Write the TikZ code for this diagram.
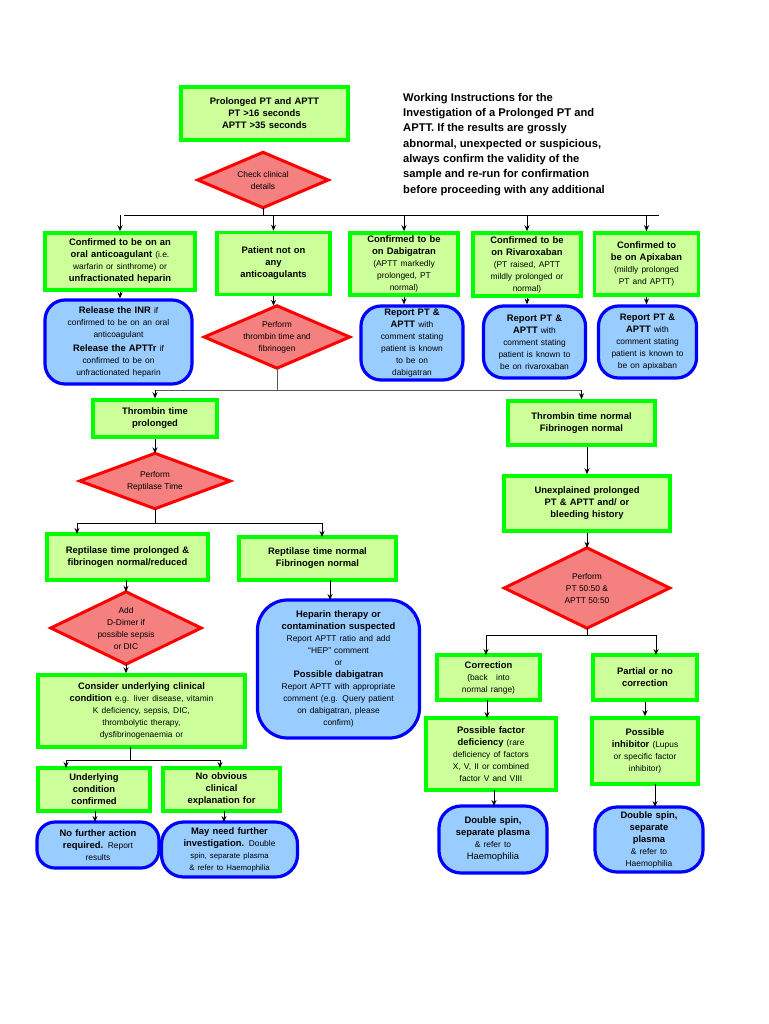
\documentclass[tikz,border=0pt]{standalone}
\usepackage{fontspec}
\setmainfont{Liberation Sans}
\usetikzlibrary{shapes.geometric,arrows.meta,backgrounds}
\definecolor{gbord}{RGB}{0,255,0}
\definecolor{gfill}{RGB}{204,255,153}
\definecolor{bbord}{RGB}{0,0,255}
\definecolor{bfill}{RGB}{153,204,255}
\definecolor{rbord}{RGB}{255,0,0}
\definecolor{rfill}{RGB}{245,128,128}
\newcommand{\sm}{\fontsize{8.4}{10.8}\selectfont}
\begin{document}
\begin{tikzpicture}[x=1pt,y=-1pt,
  every node/.style={font=\fontsize{9.4}{12}\selectfont, align=center, inner sep=1pt},
  gbox/.style={draw=gbord, fill=gfill, line width=3.5pt},
  bbox/.style={draw=bbord, fill=bfill, line width=3.2pt, rounded corners=20pt},
  dia/.style={draw=none},
  dshape/.style={draw=rbord, fill=rfill, line width=3pt, line join=miter},
  arr/.style={-{Stealth[length=6pt,width=5pt]}, line width=0.8pt},
  ln/.style={line width=0.8pt}]
\useasboundingbox (0,0) rectangle (768,1024);

% title
\begin{scope}
\clip (395,85) rectangle (690,200);
\node[anchor=north west, align=left, font=\fontsize{11.2}{15.3}\selectfont\bfseries, inner sep=0] (title) at (403,93)
{Working Instructions for the\\Investigation of a Prolonged PT and\\APTT. If the results are grossly\\abnormal, unexpected or suspicious,\\always confirm the validity of the\\sample and re-run for confirmation\\before proceeding with any additional\\tests.};
\end{scope}

\node[gbox, minimum width=167, minimum height=53, text width=160] (top) at (264.5,113.5)
{\textbf{Prolonged PT and APTT}\\\textbf{PT >16 seconds}\\\textbf{APTT >35 seconds}};

\node[dia, minimum width=130, minimum height=55] (chk) at (263,180) {\sm Check clinical\\\sm details};
\begin{pgfonlayer}{background}
\draw[dshape] (chk.west)--(chk.north)--(chk.east)--(chk.south)--cycle;
\end{pgfonlayer}

% first row boxes
\node[gbox, minimum width=150, minimum height=57, text width=148] (A) at (120,261.5)
{\textbf{Confirmed to be on an}\\\textbf{oral anticoagulant} {\sm(i.e.}\\{\sm warfarin or sinthrome) or}\\\textbf{unfractionated heparin}};
\node[gbox, minimum width=113, minimum height=62, text width=108] (B) at (273.5,263.5)
{\textbf{Patient not on}\\\textbf{any}\\\textbf{anticoagulants}};
\node[gbox, minimum width=108, minimum height=62, text width=106] (C) at (404,264)
{\textbf{Confirmed to be}\\\textbf{on Dabigatran}\\{\sm (APTT markedly}\\{\sm prolonged, PT}\\{\sm normal)}};
\node[gbox, minimum width=106, minimum height=63, text width=106] (D) at (527,264.5)
{\textbf{Confirmed to be}\\\textbf{on Rivaroxaban}\\{\sm (PT raised, APTT}\\{\sm mildly prolonged or}\\{\sm normal)}};
\node[gbox, minimum width=103, minimum height=62, text width=102] (E) at (646.5,264)
{\textbf{Confirmed to}\\\textbf{be on Apixaban}\\{\sm (mildly prolonged}\\{\sm PT and APTT)}};

\coordinate (t1) at (0,215);
\draw[ln] (124,215) -- (659,215);
\draw[ln] (chk.south) -- (chk.south |- t1);
\draw[arr] (A.north |- t1) -- (A.north);
\draw[arr] (B.north |- t1) -- (B.north);
\draw[arr] (C.north |- t1) -- (C.north);
\draw[arr] (D.north |- t1) -- (D.north);
\draw[arr] (E.north |- t1) -- (E.north);

% second row
\node[bbox, minimum width=147, minimum height=84, text width=145] (Ab) at (118.5,342)
{\textbf{Release the INR} {\sm if}\\{\sm confirmed to be on an oral}\\{\sm anticoagulant}\\[2pt]\textbf{Release the APTTr} {\sm if}\\{\sm confirmed to be on}\\{\sm unfractionated heparin}};
\node[dia, minimum width=145, minimum height=62] (thr) at (277,337) {\sm Perform\\\sm thrombin time and\\\sm fibrinogen};
\begin{pgfonlayer}{background}
\draw[dshape] (thr.west)--(thr.north)--(thr.east)--(thr.south)--cycle;
\end{pgfonlayer}
\node[bbox, minimum width=100, minimum height=74, text width=100] (Cb) at (412,343)
{\textbf{Report PT \&}\\\textbf{APTT} {\sm with}\\{\sm comment stating}\\{\sm patient is known}\\{\sm to be on}\\{\sm dabigatran}};
\node[bbox, minimum width=99, minimum height=72, text width=100] (Db) at (534.5,342)
{\textbf{Report PT \&}\\\textbf{APTT} {\sm with}\\{\sm comment stating}\\{\sm patient is known to}\\{\sm be on rivaroxaban}};
\node[bbox, minimum width=93, minimum height=72, text width=96] (Eb) at (647.5,342)
{\textbf{Report PT \&}\\\textbf{APTT} {\sm with}\\{\sm comment stating}\\{\sm patient is known to}\\{\sm be on apixaban}};
\draw[arr] (A.south) -- (A.south |- Ab.north);
\draw[arr] (B.south) -- (B.south |- thr.north);
\draw[arr] (C.south) -- (C.south |- Cb.north);
\draw[arr] (D.south) -- (D.south |- Db.north);
\draw[arr] (E.south) -- (E.south |- Eb.north);

% thrombin results
\node[gbox, minimum width=124, minimum height=37, text width=120] (TP) at (155,418.5)
{\textbf{Thrombin time}\\\textbf{prolonged}};
\node[gbox, minimum width=147, minimum height=44, text width=145] (TN) at (581.5,423)
{\textbf{Thrombin time normal}\\\textbf{Fibrinogen normal}};
\coordinate (t2) at (0,390);
\draw[ln, gray!70!black] (thr.south) -- (thr.south |- t2);
\draw[ln, gray!70!black] (TP.north |- t2) -- (TN.north |- t2);
\draw[arr] (TP.north |- t2) -- (TP.north);
\draw[arr] (TN.north |- t2) -- (TN.north);

% reptilase
\node[dia, minimum width=150, minimum height=55] (rep) at (155,481) {\sm Perform\\\sm Reptilase Time};
\begin{pgfonlayer}{background}
\draw[dshape] (rep.west)--(rep.north)--(rep.east)--(rep.south)--cycle;
\end{pgfonlayer}
\draw[arr] (TP.south) -- (rep.north);
\node[gbox, minimum width=161, minimum height=46, text width=159] (RP) at (127.5,557)
{\textbf{Reptilase time prolonged \&}\\\textbf{fibrinogen normal/reduced}};
\node[gbox, minimum width=157, minimum height=43, text width=152] (RN) at (317.5,558.5)
{\textbf{Reptilase time normal}\\\textbf{Fibrinogen normal}};
\coordinate (t3) at (0,523);
\draw[ln] (rep.south) -- (rep.south |- t3);
\draw[ln] (77,523) -- (322,523);
\draw[arr] (77,523) -- (77,534);
\draw[arr] (322,523) -- (322,537);

\node[bbox, minimum width=153, minimum height=138, text width=160, rounded corners=30pt] (Hep) at (338.5,669)
{\textbf{Heparin therapy or}\\\textbf{contamination suspected}\\{\sm Report APTT ratio and add}\\{\sm ``HEP'' comment}\\{\sm or}\\\textbf{Possible dabigatran}\\{\sm Report APTT with appropriate}\\{\sm comment (e.g. Query patient}\\{\sm on dabigatran, please}\\{\sm confirm)}};
\draw[arr] (330,580) -- (330,600);

\node[dia, minimum width=150, minimum height=72] (dd) at (126,628) {\sm Add\\\sm D-Dimer if\\\sm possible sepsis\\\sm or DIC};
\begin{pgfonlayer}{background}
\draw[dshape] (dd.west)--(dd.north)--(dd.east)--(dd.south)--cycle;
\end{pgfonlayer}
\draw[arr] (126,580) -- (dd.north);

\node[gbox, minimum width=207, minimum height=72, text width=203] (Con) at (141.5,711)
{\textbf{Consider underlying clinical}\\\textbf{condition} {\sm e.g. liver disease, vitamin}\\{\sm K deficiency, sepsis, DIC,}\\{\sm thrombolytic therapy,}\\{\sm dysfibrinogenaemia or}};
\draw[arr] (dd.south) -- (Con.north -| dd.south);

\node[gbox, minimum width=112, minimum height=43, text width=108] (U) at (94,789.5)
{\textbf{Underlying}\\\textbf{condition}\\\textbf{confirmed}};
\node[gbox, minimum width=117, minimum height=43, text width=114] (NO) at (221.5,789.5)
{\textbf{No obvious}\\\textbf{clinical}\\\textbf{explanation for}};
\coordinate (t4) at (0,760);
\draw[ln] (130,747) -- (130,760);
\draw[ln] (66,760) -- (220,760);
\draw[arr] (66,760) -- (66,768);
\draw[arr] (220,760) -- (220,768);

\node[bbox, minimum width=120, minimum height=46, text width=120, rounded corners=18pt] (Ub) at (98,845)
{\textbf{No further action}\\\textbf{required.} {\sm Report}\\{\sm results}};
\node[bbox, minimum width=133, minimum height=55, text width=134, rounded corners=22pt] (NOb) at (229.5,849.5)
{\textbf{May need further}\\\textbf{investigation.} {\sm Double}\\{\fontsize{7.8}{9.5}\selectfont spin, separate plasma}\\{\fontsize{7.8}{9.5}\selectfont \& refer to Haemophilia}};
\draw[arr] (95,811) -- (95,822);
\draw[arr] (224,811) -- (224,822);

% right branch
\node[gbox, minimum width=166, minimum height=55, text width=162] (UX) at (587,503.5)
{\textbf{Unexplained prolonged}\\\textbf{PT \& APTT and/ or}\\\textbf{bleeding history}};
\draw[arr] (TN.south -| UX.north) -- (UX.north);
\node[dia, minimum width=165, minimum height=80] (p50) at (587,588) {\sm Perform\\\sm PT 50:50 \&\\\sm APTT 50:50};
\begin{pgfonlayer}{background}
\draw[dshape] (p50.west)--(p50.north)--(p50.east)--(p50.south)--cycle;
\end{pgfonlayer}
\draw[arr] (UX.south) -- (p50.north);

\node[gbox, minimum width=103, minimum height=45, text width=100] (Cor) at (488.5,677.5)
{\textbf{Correction}\\{\sm (back\quad into}\\{\sm normal range)}};
\node[gbox, minimum width=104, minimum height=45, text width=100] (Par) at (645,677.5)
{\textbf{Partial or no}\\\textbf{correction}};
\draw[ln] (p50.south) -- (587,635);
\draw[ln] (486,635) -- (656,635);
\draw[arr] (486,635) -- (486,655);
\draw[arr] (656,635) -- (656,655);

\node[gbox, minimum width=130, minimum height=72, text width=128] (PF) at (491,754)
{\textbf{Possible factor}\\\textbf{deficiency} {\sm (rare}\\{\sm deficiency of factors}\\{\sm X, V, II or combined}\\{\sm factor V and VIII}};
\node[gbox, minimum width=104, minimum height=66, text width=104] (PI) at (645,751)
{\textbf{Possible}\\\textbf{inhibitor} {\sm (Lupus}\\{\sm or specific factor}\\{\sm inhibitor)}};
\draw[arr] (487,700) -- (487,718);
\draw[arr] (Par.south) -- (PI.north);

\node[bbox, minimum width=106, minimum height=67, text width=106, rounded corners=22pt] (PFb) at (493,839.5)
{\textbf{Double spin,}\\\textbf{separate plasma}\\{\sm \& refer to}\\Haemophilia};
\node[bbox, minimum width=106, minimum height=65, text width=106, rounded corners=22pt] (PIb) at (649,839.5)
{\textbf{Double spin,}\\\textbf{separate}\\\textbf{plasma}\\{\sm \& refer to}\\{\sm Haemophilia}};
\draw[arr] (494,790) -- (494,806);
\draw[arr] (655,784) -- (655,807);
\end{tikzpicture}
\end{document}
